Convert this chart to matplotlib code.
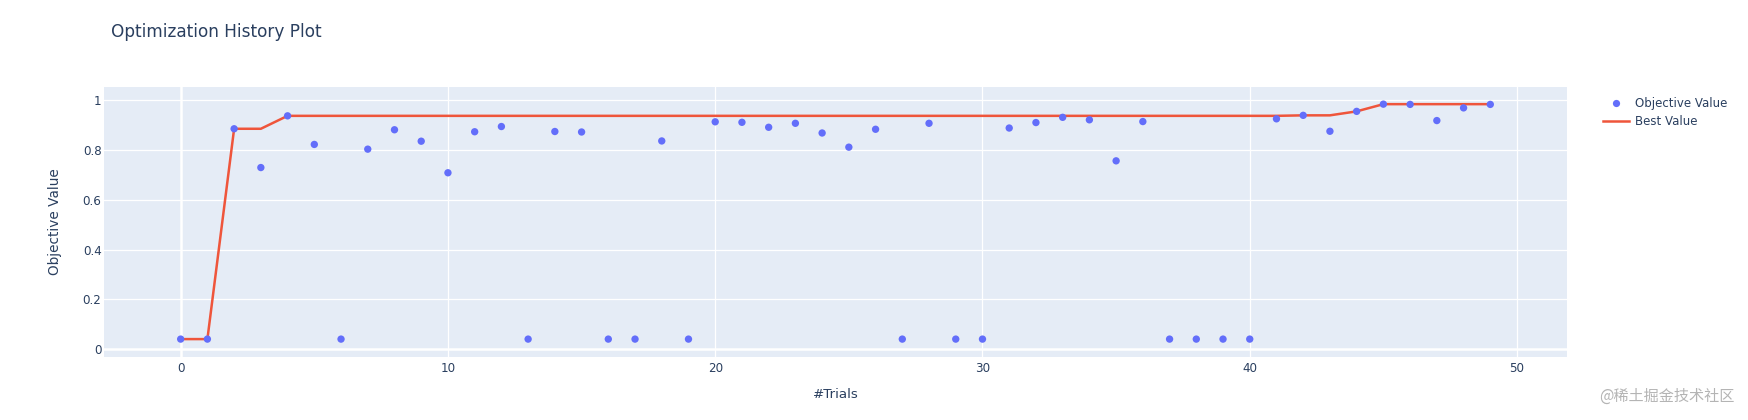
import matplotlib
matplotlib.use("Agg")
import matplotlib.pyplot as plt
from matplotlib.lines import Line2D

trials = list(range(50))
objective_values = [0.04, 0.04, 0.886, 0.730, 0.938, 0.823, 0.04, 0.804, 0.882, 0.836,
                    0.709, 0.874, 0.895, 0.04, 0.875, 0.873, 0.04, 0.04, 0.837, 0.04,
                    0.914, 0.912, 0.892, 0.908, 0.869, 0.812, 0.884, 0.04, 0.908, 0.04,
                    0.04, 0.889, 0.911, 0.932, 0.922, 0.757, 0.915, 0.04, 0.04, 0.04,
                    0.04, 0.926, 0.940, 0.876, 0.956, 0.985, 0.984, 0.919, 0.970, 0.984]
best_values = [0.04, 0.04, 0.886, 0.886, 0.938, 0.938, 0.938, 0.938, 0.938, 0.938,
               0.938, 0.938, 0.938, 0.938, 0.938, 0.938, 0.938, 0.938, 0.938, 0.938,
               0.938, 0.938, 0.938, 0.938, 0.938, 0.938, 0.938, 0.938, 0.938, 0.938,
               0.938, 0.938, 0.938, 0.938, 0.938, 0.938, 0.938, 0.938, 0.938, 0.938,
               0.938, 0.938, 0.940, 0.940, 0.956, 0.985, 0.985, 0.985, 0.985, 0.985]
x_ticks = [0, 10, 20, 30, 40, 50]
y_ticks = [0, 0.2, 0.4, 0.6, 0.8, 1.0]
y_tick_labels = ["0", "0.2", "0.4", "0.6", "0.8", "1"]

TEXT = "#2a3f5f"
W, H = 1749, 420
fig = plt.figure(figsize=(W / 100, H / 100), dpi=100)
plt.rcParams['font.family'] = ['DejaVu Sans']

l, r, t, b = 103.7, 1567, 87, 357
ax = fig.add_axes([l / W, 1 - b / H, (r - l) / W, (b - t) / H])
ax.set_facecolor("#E5ECF6")
for s in ax.spines.values():
    s.set_visible(False)

ax.set_xlim(-2.88, 51.87)
ax.set_ylim(-0.032, 1.054)
ax.set_xticks(x_ticks)
ax.set_yticks(y_ticks)
ax.set_yticklabels(y_tick_labels)
ax.grid(True, color="white", linewidth=0.9, zorder=0)
ax.set_axisbelow(True)
ax.axhline(0, color="white", linewidth=1.8, zorder=0.5)
ax.axvline(0, color="white", linewidth=1.8, zorder=0.5)
ax.tick_params(axis="both", length=0, labelsize=8.6, labelcolor=TEXT)
ax.tick_params(axis="x", pad=3.5)
ax.tick_params(axis="y", pad=1.5)

ax.plot(trials, best_values, color="#EF553B", linewidth=1.8, zorder=2)
ax.scatter(trials, objective_values, s=28, color="#636efa", edgecolors="none", zorder=3)

fig.text(836 / W, 1 - 395 / H, "#Trials", ha="center", va="center", fontsize=9.6, color=TEXT)
fig.text(55 / W, 1 - 222 / H, "Objective Value", ha="center", va="center", rotation=90,
         fontsize=9.8, color=TEXT)
fig.text(111 / W, 1 - 32 / H, "Optimization History Plot", ha="left", va="center",
         fontsize=12.2, color=TEXT)

# legend
handles = [Line2D([], [], marker="o", linestyle="none", markersize=5.2, markerfacecolor="#636efa",
                  markeredgecolor="none"),
           Line2D([], [], color="#EF553B", linewidth=1.8)]
leg = fig.legend(handles, ["Objective Value", "Best Value"], loc="upper left",
                 bbox_to_anchor=(1597 / W, 1 - 91 / H), frameon=False, fontsize=8.5,
                 handlelength=2.2, handletextpad=0.55, labelspacing=0.45, borderpad=0,
                 labelcolor=TEXT)

fig.text(1735 / W, 1 - 396 / H, "@稀土掘金技术社区", ha="right", va="center", fontsize=10.9,
         color="#b4b4b4", family=["Noto Sans CJK SC", "DejaVu Sans"])

fig.savefig("out.png", dpi=100)
